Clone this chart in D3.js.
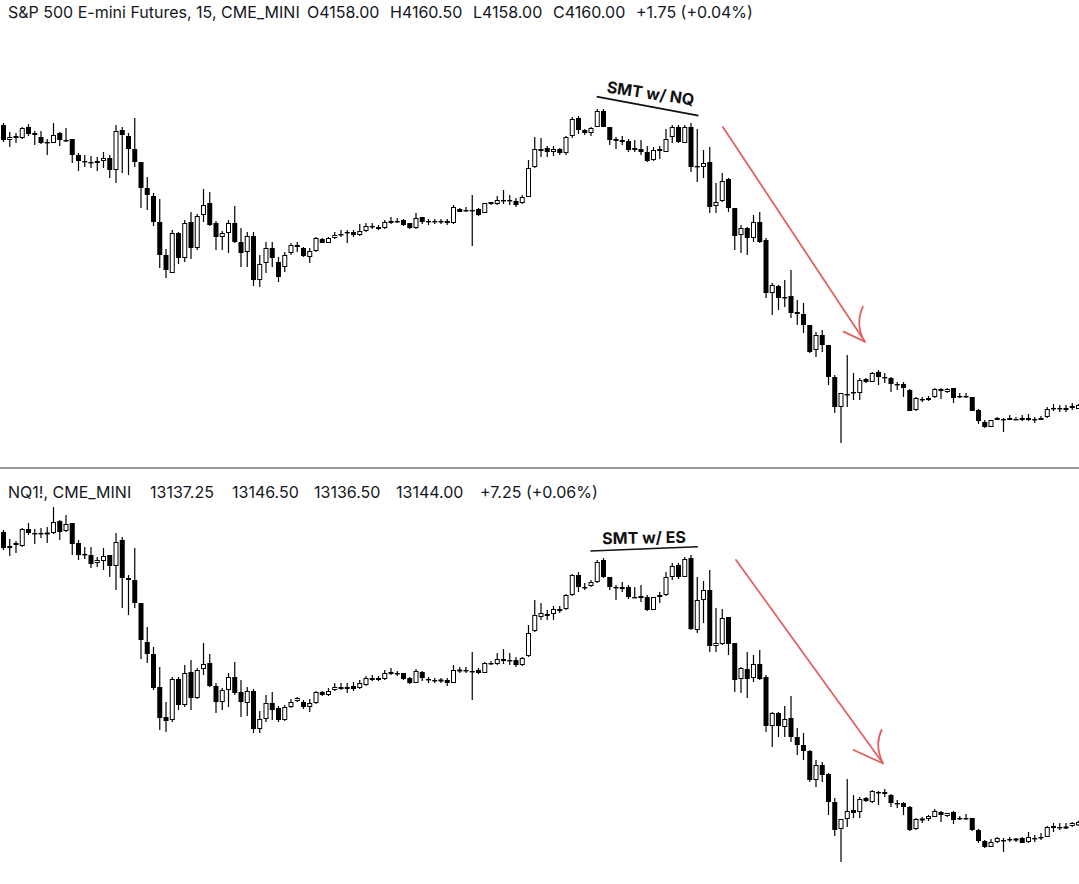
<!DOCTYPE html>
<meta charset="utf-8">
<style>
body { margin: 0; background: #fff; }
svg { display: block; }
text { font-family: Inter, "Noto Sans", sans-serif; fill: #131722; }
</style>
<svg width="1079" height="884"></svg>
<script src="https://d3js.org/d3.v7.min.js"></script>
<script>

// ES 15m bars: [open, high, low, close]
var esBars = [
[4300,4301,4291.5,4292.5],[4292.5,4296.5,4289,4294],[4294.5,4296,4291,4293.5],[4293.5,4299,4293,4298.5],
[4299,4300.5,4294.5,4295.5],[4296,4297,4290,4295],[4294,4297,4290.5,4291],[4291.5,4293,4285,4291.25],
[4291,4301,4291,4295],[4296,4296.5,4289.5,4292.5],[4292.5,4298.5,4291.5,4292],[4293,4293,4281,4285],
[4285,4286,4277,4282],[4282,4285,4279,4281.5],[4281.5,4284.5,4278.5,4281],[4281.5,4284,4277,4282],
[4282,4286.5,4278.5,4283.5],[4283.5,4285,4273.5,4277.5],[4277.5,4300,4271,4297],[4297.5,4299,4276,4295],
[4294.5,4296,4275,4288],[4288,4303.5,4279,4281.5],[4281.5,4281.5,4258.5,4268.5],[4268.5,4274,4257.5,4265],
[4264.5,4266,4249.5,4251.5],[4251.5,4263,4228.5,4235],[4235,4238,4223.5,4227.5],[4226,4247.5,4226,4246],
[4246,4246.5,4230.5,4233.5],[4233.5,4252.5,4231.5,4251],[4251.5,4256.5,4233,4238.5],[4238.5,4255.5,4237.5,4254.5],
[4255,4268,4251.5,4260],[4261,4266.5,4249.5,4250],[4251,4252,4237.5,4244],[4244,4247,4237.5,4246],
[4246,4252.5,4236,4251],[4251,4259.5,4241,4241.5],[4241.5,4248.5,4229,4236],[4236.5,4246.5,4229,4244.5],
[4244.5,4246.5,4219.5,4222.5],[4222.5,4235,4219,4230.5],[4231,4241.5,4226,4238.5],[4238.5,4241.5,4229,4233.5],
[4231.5,4234,4221.5,4224],[4229,4236.5,4226.5,4235],[4236,4241,4235,4240],[4239.5,4241.5,4236.5,4240],
[4238.5,4239,4234,4234.5],[4234,4238.5,4231,4237],[4237,4244,4236.5,4243.5],[4243,4243.5,4241,4241],
[4241,4244,4241,4243.5],[4243.5,4246.5,4243,4245],[4245.5,4247.5,4244,4245.25],[4246.5,4247.5,4241,4246],
[4246.5,4247.5,4244,4245],[4245,4250.5,4244.5,4247],[4247,4251,4246.5,4249.5],[4249.5,4251,4248,4249],
[4249,4250,4247.5,4248],[4248.5,4252.5,4248,4251.5],[4251.5,4254,4250.5,4252],[4252,4253.5,4251,4251.5],
[4252.5,4253,4249.5,4250],[4251,4251,4248,4248.5],[4248.5,4256,4248,4253.5],[4254,4254,4250.5,4251.5],
[4252,4253,4250,4251.75],[4252,4253,4250.5,4251.75],[4252,4253,4250.5,4251.5],[4252,4253,4250,4251],
[4251,4260,4250.5,4259],[4258,4258.5,4256.5,4256.5],[4257.5,4259,4256.5,4257.25],[4257.5,4265,4239.5,4257],
[4258,4258.5,4254.5,4255],[4256,4261,4256,4261],[4261.5,4261.5,4260,4260.5],[4260.5,4264.5,4260,4262.5],
[4262.5,4267.5,4260.5,4262],[4262.5,4265,4260,4262],[4262,4263.5,4259,4260],[4261,4265,4260.5,4264],
[4264,4282.5,4264,4278.5],[4279,4294,4278.5,4288],[4287.5,4293.5,4284,4288],[4288.5,4289.5,4284,4286.5],
[4286.5,4289.5,4284.5,4288],[4288,4288.5,4285,4286],[4286,4294.5,4285,4294],[4294.5,4304,4293.5,4303],
[4303.5,4304.5,4295.5,4297.5],[4297.5,4298,4295,4296],[4296,4299,4294.5,4298.5],[4299,4308,4299,4307],
[4307,4308,4299,4299],[4299,4299,4290,4292.5],[4293,4294,4288,4292],[4292.5,4294.5,4290,4291.5],
[4292,4293,4286.5,4287.5],[4288.5,4292.5,4286.5,4287.5],[4288,4292.5,4285,4286.5],[4286.5,4289.5,4281.5,4282],
[4282.5,4289,4282,4287.5],[4288,4289.5,4283,4287],[4286.5,4298,4286.5,4293],[4294,4300,4291,4299],
[4299,4300,4291,4291.5],[4291,4300,4291,4299],[4299,4301,4276.5,4279],[4279.5,4298,4271.5,4279],
[4279,4287.5,4273.5,4281],[4281.5,4289,4256,4259],[4259.5,4271,4256,4261.5],[4262,4276,4261.5,4272],
[4273,4273.5,4256.5,4258.5],[4258.5,4258.5,4237.5,4244.5],[4245,4250,4236,4248.5],[4248.5,4249,4235,4243.5],
[4243.5,4255,4241.5,4251.5],[4251.5,4256.5,4241,4241.5],[4242.5,4243.5,4213.5,4216],[4216,4221,4205,4220],
[4219.5,4220,4207.5,4213.5],[4214,4222.5,4209,4213.5],[4214.5,4227.5,4203.5,4206],[4206.5,4212.5,4200,4205.5],
[4205.5,4211,4196,4200],[4200,4200,4186,4186.5],[4187.5,4196.5,4184,4195],[4195,4197.5,4186.5,4190],
[4190,4190,4170,4174],[4174,4175,4156,4159],[4159,4166,4141,4166],[4165.5,4185,4159,4165],
[4166.5,4176,4162.5,4166],[4166,4173.5,4162.5,4172.5],[4173,4173.5,4171,4171.5],[4171.5,4176.5,4171.5,4176],
[4176.5,4177.5,4170,4174],[4174,4176,4171,4173.5],[4173.5,4174,4166.5,4170.5],[4170.5,4171.5,4167.5,4170],
[4170.5,4171.5,4164,4168.5],[4167.5,4168,4157,4157],[4157.5,4164,4157,4163.5],[4163,4164,4161.5,4162.5],
[4163,4164.5,4162,4163.5],[4164,4168.5,4163.5,4168],[4168,4168.5,4163,4167],[4166.5,4168.5,4166,4168],
[4168.5,4168.5,4161,4163.5],[4164.5,4166,4163.5,4164],[4164.5,4166,4163.5,4164],[4164,4164,4157,4157],
[4157.5,4158,4150.5,4152],[4151.5,4152.5,4148.5,4149],[4149,4152.5,4149,4152.5],[4153,4154,4152.5,4153.5],
[4153,4153.5,4146.5,4153],[4153,4155,4152.5,4153.5],[4153,4154,4152.5,4153],[4153.5,4155,4152,4152.5],
[4153,4155.5,4152,4153.5],[4153,4154,4151,4152.5],[4153,4154.5,4152.5,4153.5],[4154,4159,4153.5,4158],
[4158.5,4160.5,4157,4158],[4158.5,4160,4156.5,4158.5],[4158.5,4160,4156.5,4157.5],[4159,4161,4157.5,4159.5],
[4158,4160.5,4158,4160]
];

// NQ 15m bars: [open, high, low, close]
var nqBars = [
[13724,13728,13688,13692],[13692,13710,13676,13696],[13702,13706,13682,13698],[13696,13732,13694,13730],
[13730,13742,13718,13722],[13722,13730,13700,13720],[13722,13732,13712,13721],[13722,13734,13702,13723],
[13722,13774,13720,13744],[13746,13748,13708,13724],[13726,13758,13724,13740],[13742,13742,13678,13700],
[13702,13708,13668,13678],[13680,13694,13670,13678],[13678,13694,13652,13660],[13662,13674,13654,13668],
[13666,13692,13648,13676],[13678,13678,13634,13656],[13656,13722,13608,13704],[13708,13714,13572,13632],
[13632,13638,13558,13628],[13628,13692,13572,13582],[13582,13582,13470,13508],[13504,13534,13462,13480],
[13480,13494,13408,13412],[13414,13454,13328,13352],[13354,13384,13324,13346],[13348,13434,13344,13430],
[13430,13434,13368,13378],[13378,13458,13374,13442],[13444,13468,13368,13392],[13392,13452,13390,13448],
[13450,13502,13438,13460],[13462,13480,13414,13416],[13416,13422,13362,13384],[13384,13412,13368,13408],
[13408,13442,13374,13434],[13434,13464,13398,13402],[13404,13428,13354,13384],[13382,13414,13356,13406],
[13406,13410,13322,13330],[13330,13366,13322,13350],[13350,13398,13344,13382],[13382,13404,13348,13368],
[13372,13376,13344,13348],[13348,13378,13346,13374],[13374,13390,13372,13384],[13386,13394,13384,13392],
[13384,13388,13370,13374],[13374,13390,13364,13382],[13382,13406,13380,13404],[13404,13406,13396,13398],
[13398,13412,13396,13406],[13408,13422,13406,13414],[13412,13422,13408,13414],[13412,13422,13402,13414],
[13416,13424,13406,13410],[13412,13428,13410,13422],[13418,13436,13416,13432],[13430,13438,13426,13432],
[13432,13436,13426,13428],[13430,13448,13428,13442],[13442,13452,13438,13444],[13442,13446,13436,13441],
[13442,13442,13428,13430],[13432,13434,13420,13422],[13422,13450,13422,13446],[13444,13446,13426,13432],
[13430,13434,13422,13428],[13428,13432,13422,13427],[13428,13432,13422,13429],[13428,13432,13416,13422],
[13422,13458,13422,13448],[13448,13454,13442,13449],[13448,13454,13442,13446],[13446,13484,13388,13445],
[13448,13452,13440,13442],[13442,13464,13442,13462],[13462,13466,13458,13460],[13460,13482,13458,13470],
[13470,13490,13460,13466],[13468,13482,13458,13467],[13468,13474,13454,13458],[13458,13474,13456,13472],
[13476,13538,13474,13522],[13526,13588,13524,13558],[13554,13582,13548,13562],[13560,13568,13548,13556],
[13560,13576,13548,13570],[13570,13576,13562,13566],[13570,13600,13568,13598],[13598,13640,13596,13638],
[13638,13644,13604,13614],[13614,13622,13608,13613],[13616,13628,13614,13624],[13624,13668,13622,13664],
[13668,13672,13632,13634],[13634,13634,13608,13614],[13614,13618,13588,13612],[13612,13624,13604,13614],
[13614,13618,13590,13594],[13594,13614,13592,13593],[13596,13618,13584,13592],[13594,13598,13566,13568],
[13568,13594,13568,13594],[13596,13604,13582,13598],[13598,13644,13596,13634],[13634,13662,13628,13656],
[13658,13662,13630,13634],[13634,13674,13634,13670],[13672,13678,13528,13530],[13528,13634,13522,13588],
[13588,13626,13542,13608],[13608,13648,13484,13496],[13496,13572,13484,13502],[13500,13570,13498,13552],
[13554,13554,13478,13500],[13502,13502,13404,13428],[13430,13454,13402,13452],[13450,13484,13392,13430],
[13432,13478,13424,13460],[13460,13488,13428,13430],[13434,13438,13324,13336],[13336,13364,13294,13362],
[13362,13364,13314,13336],[13334,13376,13314,13350],[13352,13396,13304,13314],[13314,13332,13278,13298],
[13298,13322,13268,13286],[13286,13288,13224,13228],[13228,13268,13214,13258],[13258,13264,13224,13238],
[13240,13242,13158,13184],[13184,13192,13116,13128],[13130,13150,13064,13150],[13150,13230,13134,13166],
[13168,13198,13152,13162],[13164,13194,13152,13190],[13192,13194,13184,13186],[13184,13208,13182,13206],
[13204,13206,13178,13202],[13204,13210,13194,13200],[13198,13200,13174,13182],[13182,13188,13172,13181],
[13182,13184,13158,13174],[13174,13176,13126,13128],[13130,13152,13128,13150],[13150,13154,13142,13151],
[13150,13158,13146,13156],[13154,13170,13154,13166],[13164,13166,13144,13158],[13156,13162,13154,13162],
[13164,13166,13140,13148],[13152,13156,13148,13150],[13152,13160,13148,13151],[13152,13152,13126,13128],
[13128,13130,13102,13106],[13106,13108,13092,13094],[13094,13110,13094,13104],[13104,13114,13102,13112],
[13108,13112,13084,13107],[13110,13114,13104,13109],[13110,13112,13104,13111],[13112,13114,13102,13102],
[13104,13124,13102,13114],[13112,13118,13104,13111],[13114,13122,13108,13113],[13114,13136,13114,13134],
[13136,13142,13124,13132],[13134,13142,13128,13133],[13134,13142,13130,13135],[13136,13144,13134,13142],
[13137.25,13146.5,13136.5,13144]
];

var esHeader = ["S&P 500 E-mini Futures, 15, CME_MINI", "O4158.00", "H4160.50", "L4158.00", "C4160.00", "+1.75 (+0.04%)"];
var nqHeader = ["NQ1!, CME_MINI", "13137.25", "13146.50", "13136.50", "13144.00", "+7.25 (+0.06%)"];

// annotations, in [bar index, price]
var esSmtLine = [[94.9, 4314.2], [111.2, 4304.7]];
var esSmtLabel = [103.4, 4313];
var esArrow = [[115.1, 4299], [137.8, 4191.7]];
var esArrowLeft = [[134.4, 4196.7], [137.8, 4191.7]];
var esArrowRight = [[137.5, 4209.2], [136.2, 4200], [137.8, 4191.7]];

var nqSmtLine = [[93.9, 13686], [111.1, 13694.6]];
var nqSmtLabel = [102.5, 13701];
var nqArrow = [[117.2, 13668], [140.7, 13261.4]];
var nqArrowLeft = [[136, 13288], [140.7, 13261.4]];
var nqArrowRight = [[140.5, 13328], [139.3, 13298], [140.7, 13261.4]];

var svg = d3.select("svg");

var panels = [
  {bars: esBars, y: d3.scaleLinear().domain([4128.5, 4362.5]).range([468, 0]),
   header: esHeader, headerX: [8, 307, 390, 473, 553, 636], headerY: 18,
   smtLine: esSmtLine, smtLabel: esSmtLabel, smtText: "SMT w/ NQ", smtAngle: 8.5,
   arrow: esArrow, arrowLeft: esArrowLeft, arrowRight: esArrowRight},
  {bars: nqBars, y: d3.scaleLinear().domain([13020, 13852]).range([884, 468]),
   header: nqHeader, headerX: [8, 150, 232, 314, 396, 480], headerY: 497.5,
   smtLine: nqSmtLine, smtLabel: nqSmtLabel, smtText: "SMT w/ ES", smtAngle: -1,
   arrow: nqArrow, arrowLeft: nqArrowLeft, arrowRight: nqArrowRight}
];

var bw = 5;

panels.forEach(function(p) {
  var x = d3.scaleLinear().domain([0, p.bars.length - 1]).range([3.5, 1078.5]);
  var y = p.y;
  var g = svg.append("g");

  var c = g.selectAll("g.candle").data(p.bars).enter().append("g").attr("class", "candle");

  c.append("line")
      .attr("x1", function(d, i) { return x(i); })
      .attr("x2", function(d, i) { return x(i); })
      .attr("y1", function(d) { return y(d[1]); })
      .attr("y2", function(d) { return y(d[2]); })
      .attr("stroke", "#000")
      .attr("stroke-width", 1.2);

  c.append("rect")
      .attr("x", function(d, i) { return d[3] > d[0] ? x(i) - bw / 2 + 0.5 : x(i) - bw / 2; })
      .attr("width", function(d) { return d[3] > d[0] ? bw - 1 : bw; })
      .attr("y", function(d) {
        var top = Math.min(y(d[0]), y(d[3]));
        return d[3] > d[0] ? top + 0.5 : top;
      })
      .attr("height", function(d) {
        var h = Math.abs(y(d[0]) - y(d[3]));
        return d[3] > d[0] ? Math.max(h - 1, 1) : Math.max(h, 1.4);
      })
      .attr("fill", function(d) { return d[3] > d[0] ? "#fff" : "#000"; })
      .attr("stroke", function(d) { return d[3] > d[0] ? "#000" : "none"; })
      .attr("stroke-width", 1);

  // header
  g.selectAll("text.hdr").data(p.header).enter().append("text")
      .attr("class", "hdr")
      .attr("x", function(d, i) { return p.headerX[i]; })
      .attr("y", p.headerY)
      .style("font-size", "16px")
      .text(function(d) { return d; });

  // SMT mark
  var line = d3.line().x(function(d) { return x(d[0]); }).y(function(d) { return y(d[1]); });
  g.append("path")
      .attr("d", line(p.smtLine))
      .attr("fill", "none")
      .attr("stroke", "#111")
      .attr("stroke-width", 1.6);

  var lx = x(p.smtLabel[0]), ly = y(p.smtLabel[1]);
  g.append("text")
      .attr("x", lx)
      .attr("y", ly)
      .attr("text-anchor", "middle")
      .attr("transform", "rotate(" + p.smtAngle + "," + lx + "," + ly + ")")
      .style("font-size", "16px")
      .style("font-weight", 700)
      .style("fill", "#111")
      .text(p.smtText);

  // red arrow
  var red = "#e06262";
  g.append("path").attr("d", line(p.arrow))
      .attr("fill", "none").attr("stroke", red).attr("stroke-width", 1.8).attr("stroke-linecap", "round");
  g.append("path").attr("d", line(p.arrowLeft))
      .attr("fill", "none").attr("stroke", red).attr("stroke-width", 1.8).attr("stroke-linecap", "round");
  var ar = p.arrowRight;
  var path = d3.path();
  path.moveTo(x(ar[0][0]), y(ar[0][1]));
  path.quadraticCurveTo(x(ar[1][0]), y(ar[1][1]), x(ar[2][0]), y(ar[2][1]));
  g.append("path").attr("d", path.toString())
      .attr("fill", "none").attr("stroke", red).attr("stroke-width", 1.8).attr("stroke-linecap", "round");
});

// panel divider
svg.append("line")
    .attr("x1", 0).attr("x2", 1079)
    .attr("y1", 468).attr("y2", 468)
    .attr("stroke", "#333")
    .attr("stroke-width", 1.2);

</script>
